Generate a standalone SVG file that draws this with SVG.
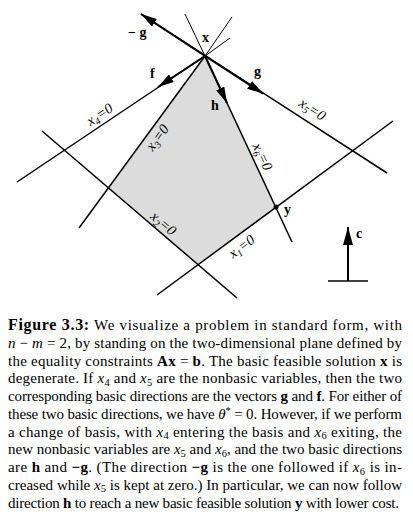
<svg xmlns="http://www.w3.org/2000/svg" width="413" height="518" viewBox="0 0 413 518">
<defs>
<marker id="ah" viewBox="0 0 16 9" refX="16" refY="4.5" markerWidth="16" markerHeight="9" markerUnits="userSpaceOnUse" orient="auto">
<path d="M0,0 L16,4.5 L0,9 z" fill="#000"/>
</marker>
<marker id="ahc" viewBox="0 0 18 10" refX="18" refY="5" markerWidth="18" markerHeight="10" markerUnits="userSpaceOnUse" orient="auto">
<path d="M0,0 L18,5 L0,10 z" fill="#000"/>
</marker>
</defs>
<style>
.ln{stroke:#000;stroke-width:1.5;fill:none}
.thin{stroke:#000;stroke-width:1;fill:none}
.ar{stroke:#000;stroke-width:2;fill:none}
.lab{font-family:"Liberation Serif",serif;font-weight:bold;font-size:14px;fill:#000}
.mt{font-family:"Liberation Serif",serif;font-style:italic;font-size:14.5px;fill:#000}
.sub{font-size:10px}
.cap{font-family:"Liberation Serif",serif;font-size:15px;fill:#000}
.b{font-weight:bold}
.i{font-style:italic}
.cs{font-size:10.5px}
</style>
<rect width="413" height="518" fill="#fff"/>
<g id="region">
<polygon points="205,56 108.5,188.5 198,265 276,207" fill="#dcdcdc"/>
</g>
<g id="lines">
<line class="ln" x1="141" y1="14" x2="387" y2="173"/>
<line class="thin" x1="230" y1="38" x2="205" y2="56"/>
<line class="ln" x1="205" y1="56" x2="17" y2="182"/>
<line class="thin" x1="232" y1="17" x2="205" y2="56"/>
<line class="ln" x1="205" y1="56" x2="79" y2="228"/>
<line class="thin" x1="185" y1="14" x2="205" y2="56"/>
<line class="ln" x1="205" y1="56" x2="292" y2="242"/>
<line class="ln" x1="42" y1="131" x2="237" y2="298"/>
<line class="ln" x1="157" y1="295" x2="393" y2="121"/>
</g>
<g id="connectors">
<path class="ar" d="M205,56 L141,14" marker-end="url(#ah)"/>
<path class="ar" d="M205,56 L263,93.6" marker-end="url(#ah)"/>
<path class="ar" d="M205,56 L158,87" marker-end="url(#ah)"/>
<path class="ar" d="M205,56 L227,103" marker-end="url(#ah)"/>
</g>
<g id="node-y"><circle cx="276" cy="207" r="2.5" fill="#000"/><text class="lab" x="284" y="214">y</text></g>
<g id="node-x"><text class="lab" x="202" y="42">x</text></g>
<g id="labels">
<text class="lab" x="128" y="37">− g</text>
<text class="lab" x="150" y="78">f</text>
<text class="lab" x="254" y="76">g</text>
<text class="lab" x="211" y="110">h</text>
<text class="mt" transform="translate(100,115) rotate(-34)" text-anchor="middle" dy="4">x<tspan class="sub" dy="3">4</tspan><tspan dy="-3">=0</tspan></text>
<text class="mt" transform="translate(158,138) rotate(-54)" text-anchor="middle" dy="4">x<tspan class="sub" dy="3">3</tspan><tspan dy="-3">=0</tspan></text>
<text class="mt" transform="translate(312,110) rotate(33)" text-anchor="middle" dy="4">x<tspan class="sub" dy="3">5</tspan><tspan dy="-3">=0</tspan></text>
<text class="mt" transform="translate(262,157) rotate(65)" text-anchor="middle" dy="4">x<tspan class="sub" dy="3">6</tspan><tspan dy="-3">=0</tspan></text>
<text class="mt" transform="translate(163,224) rotate(40.6)" text-anchor="middle" dy="4">x<tspan class="sub" dy="3">2</tspan><tspan dy="-3">=0</tspan></text>
<text class="mt" transform="translate(242,247) rotate(-36.6)" text-anchor="middle" dy="4">x<tspan class="sub" dy="3">1</tspan><tspan dy="-3">=0</tspan></text>
</g>
<g id="cost">
<line class="ln" x1="328" y1="281" x2="368" y2="281" stroke-width="2"/>
<path class="ar" d="M348,281 L348,227" marker-end="url(#ahc)"/>
<text class="lab" x="356" y="238" font-size="12">c</text>
</g>
<g id="caption">
<text class="cap" x="8" y="330" textLength="394" lengthAdjust="spacing"><tspan class="b" font-size="16">Figure 3.3:</tspan> We visualize a problem in standard form, with</text>
<text class="cap" x="8" y="347.75" textLength="394" lengthAdjust="spacing"><tspan class="i">n</tspan> − <tspan class="i">m</tspan> = 2, by standing on the two-dimensional plane defined by</text>
<text class="cap" x="8" y="365.5" textLength="394" lengthAdjust="spacing">the equality constraints <tspan class="b">Ax</tspan> = <tspan class="b">b</tspan>. The basic feasible solution <tspan class="b">x</tspan> is</text>
<text class="cap" x="8" y="383.25" textLength="394" lengthAdjust="spacing">degenerate. If <tspan class="i">x</tspan><tspan class="cs" dy="2.5">4</tspan><tspan dy="-2.5"> and </tspan><tspan class="i">x</tspan><tspan class="cs" dy="2.5">5</tspan><tspan dy="-2.5"> are the nonbasic variables, then the two</tspan></text>
<text class="cap" x="8" y="401" textLength="394" lengthAdjust="spacing">corresponding basic directions are the vectors <tspan class="b">g</tspan> and <tspan class="b">f</tspan>. For either of</text>
<text class="cap" x="8" y="418.75" textLength="394" lengthAdjust="spacing">these two basic directions, we have <tspan class="i">θ</tspan><tspan class="cs" dy="-5">*</tspan><tspan dy="5"> = 0. However, if we perform</tspan></text>
<text class="cap" x="8" y="436.5" textLength="394" lengthAdjust="spacing">a change of basis, with <tspan class="i">x</tspan><tspan class="cs" dy="2.5">4</tspan><tspan dy="-2.5"> entering the basis and </tspan><tspan class="i">x</tspan><tspan class="cs" dy="2.5">6</tspan><tspan dy="-2.5"> exiting, the</tspan></text>
<text class="cap" x="8" y="454.25" textLength="394" lengthAdjust="spacing">new nonbasic variables are <tspan class="i">x</tspan><tspan class="cs" dy="2.5">5</tspan><tspan dy="-2.5"> and </tspan><tspan class="i">x</tspan><tspan class="cs" dy="2.5">6</tspan><tspan dy="-2.5">, and the two basic directions</tspan></text>
<text class="cap" x="8" y="472" textLength="394" lengthAdjust="spacing">are <tspan class="b">h</tspan> and <tspan class="b">−g</tspan>. (The direction <tspan class="b">−g</tspan> is the one followed if <tspan class="i">x</tspan><tspan class="cs" dy="2.5">6</tspan><tspan dy="-2.5"> is in-</tspan></text>
<text class="cap" x="8" y="489.75" textLength="394" lengthAdjust="spacing">creased while <tspan class="i">x</tspan><tspan class="cs" dy="2.5">5</tspan><tspan dy="-2.5"> is kept at zero.) In particular, we can now follow</tspan></text>
<text class="cap" x="8" y="507.5" textLength="391" lengthAdjust="spacing">direction <tspan class="b">h</tspan> to reach a new basic feasible solution <tspan class="b">y</tspan> with lower cost.</text>
</g>
</svg>
